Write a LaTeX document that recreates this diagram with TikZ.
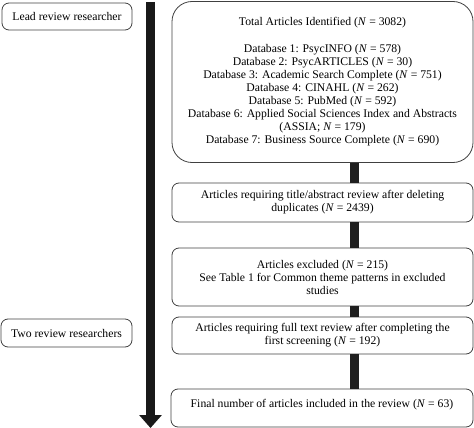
\documentclass[tikz,border=0pt]{standalone}
\usepackage{fontspec}
\setmainfont{Liberation Serif}
\usetikzlibrary{arrows.meta}

\begin{document}
\begin{tikzpicture}[x=1pt,y=-1pt,
  box/.style={draw=black!75,line width=0.8pt,rounded corners=7pt,align=center,inner sep=2pt,
    font=\fontsize{11.7}{13}\selectfont},
  link/.style={line width=9pt,black!88}]
  \useasboundingbox (0,0) rectangle (474,428);

  \node[box,minimum width=130pt,minimum height=27pt] (lead) at (67,16.5) {Lead review researcher}; % first stage
  \node[box,minimum width=131pt,minimum height=28pt] (two) at (66.5,333) {Two review researchers}; % second stage

  \coordinate (top) at (150.5,2);
  \coordinate (bottom) at (150.5,428);
  \coordinate (spine) at (354,0);

  \node[box,rounded corners=20pt,minimum width=301pt,minimum height=161pt] (ident) at (322.5,82) {%
    Total Articles Identified (\textit{N} = 3082)\\[14pt]
    Database 1: PsycINFO (\textit{N} = 578)\\
    Database 2: PsycARTICLES (\textit{N} = 30)\\
    Database 3: Academic Search Complete (\textit{N} = 751)\\
    Database 4: CINAHL (\textit{N} = 262)\\
    Database 5: PubMed (\textit{N} = 592)\\
    Database 6: Applied Social Sciences Index and Abstracts\\
    (ASSIA; \textit{N} = 179)\\
    Database 7: Business Source Complete (\textit{N} = 690)};
  \node[box,minimum width=301pt,minimum height=39pt] (dedup) at (322.5,202.5) {%
    Articles requiring title/abstract review after deleting\\
    duplicates (\textit{N} = 2439)};
  \node[box,minimum width=301pt,minimum height=58pt] (excl) at (322.5,277) {%
    Articles excluded (\textit{N} = 215)\\
    See Table 1 for Common theme patterns in excluded\\
    studies};
  \node[box,minimum width=301pt,minimum height=37pt] (full) at (322.5,335.5) {%
    Articles requiring full text review after completing the\\
    first screening (\textit{N} = 192)};
  \node[box,minimum width=302pt,minimum height=38pt,text depth=9pt] (final) at (322,408) {%
    Final number of articles included in the review (\textit{N} = 63)};

  % time line on the left
  \draw[line width=9pt,draw=black!90,-{Triangle[width=22pt,length=13pt]}] (top) -- (bottom);

  % links between the stages
  \draw[link] (ident.south -| spine) -- (dedup.north -| spine);
  \draw[link] (dedup.south -| spine) -- (excl.north -| spine);
  \draw[link] (excl.south -| spine) -- (full.north -| spine);
  \draw[link] (full.south -| spine) -- (final.north -| spine);
\end{tikzpicture}
\end{document}
